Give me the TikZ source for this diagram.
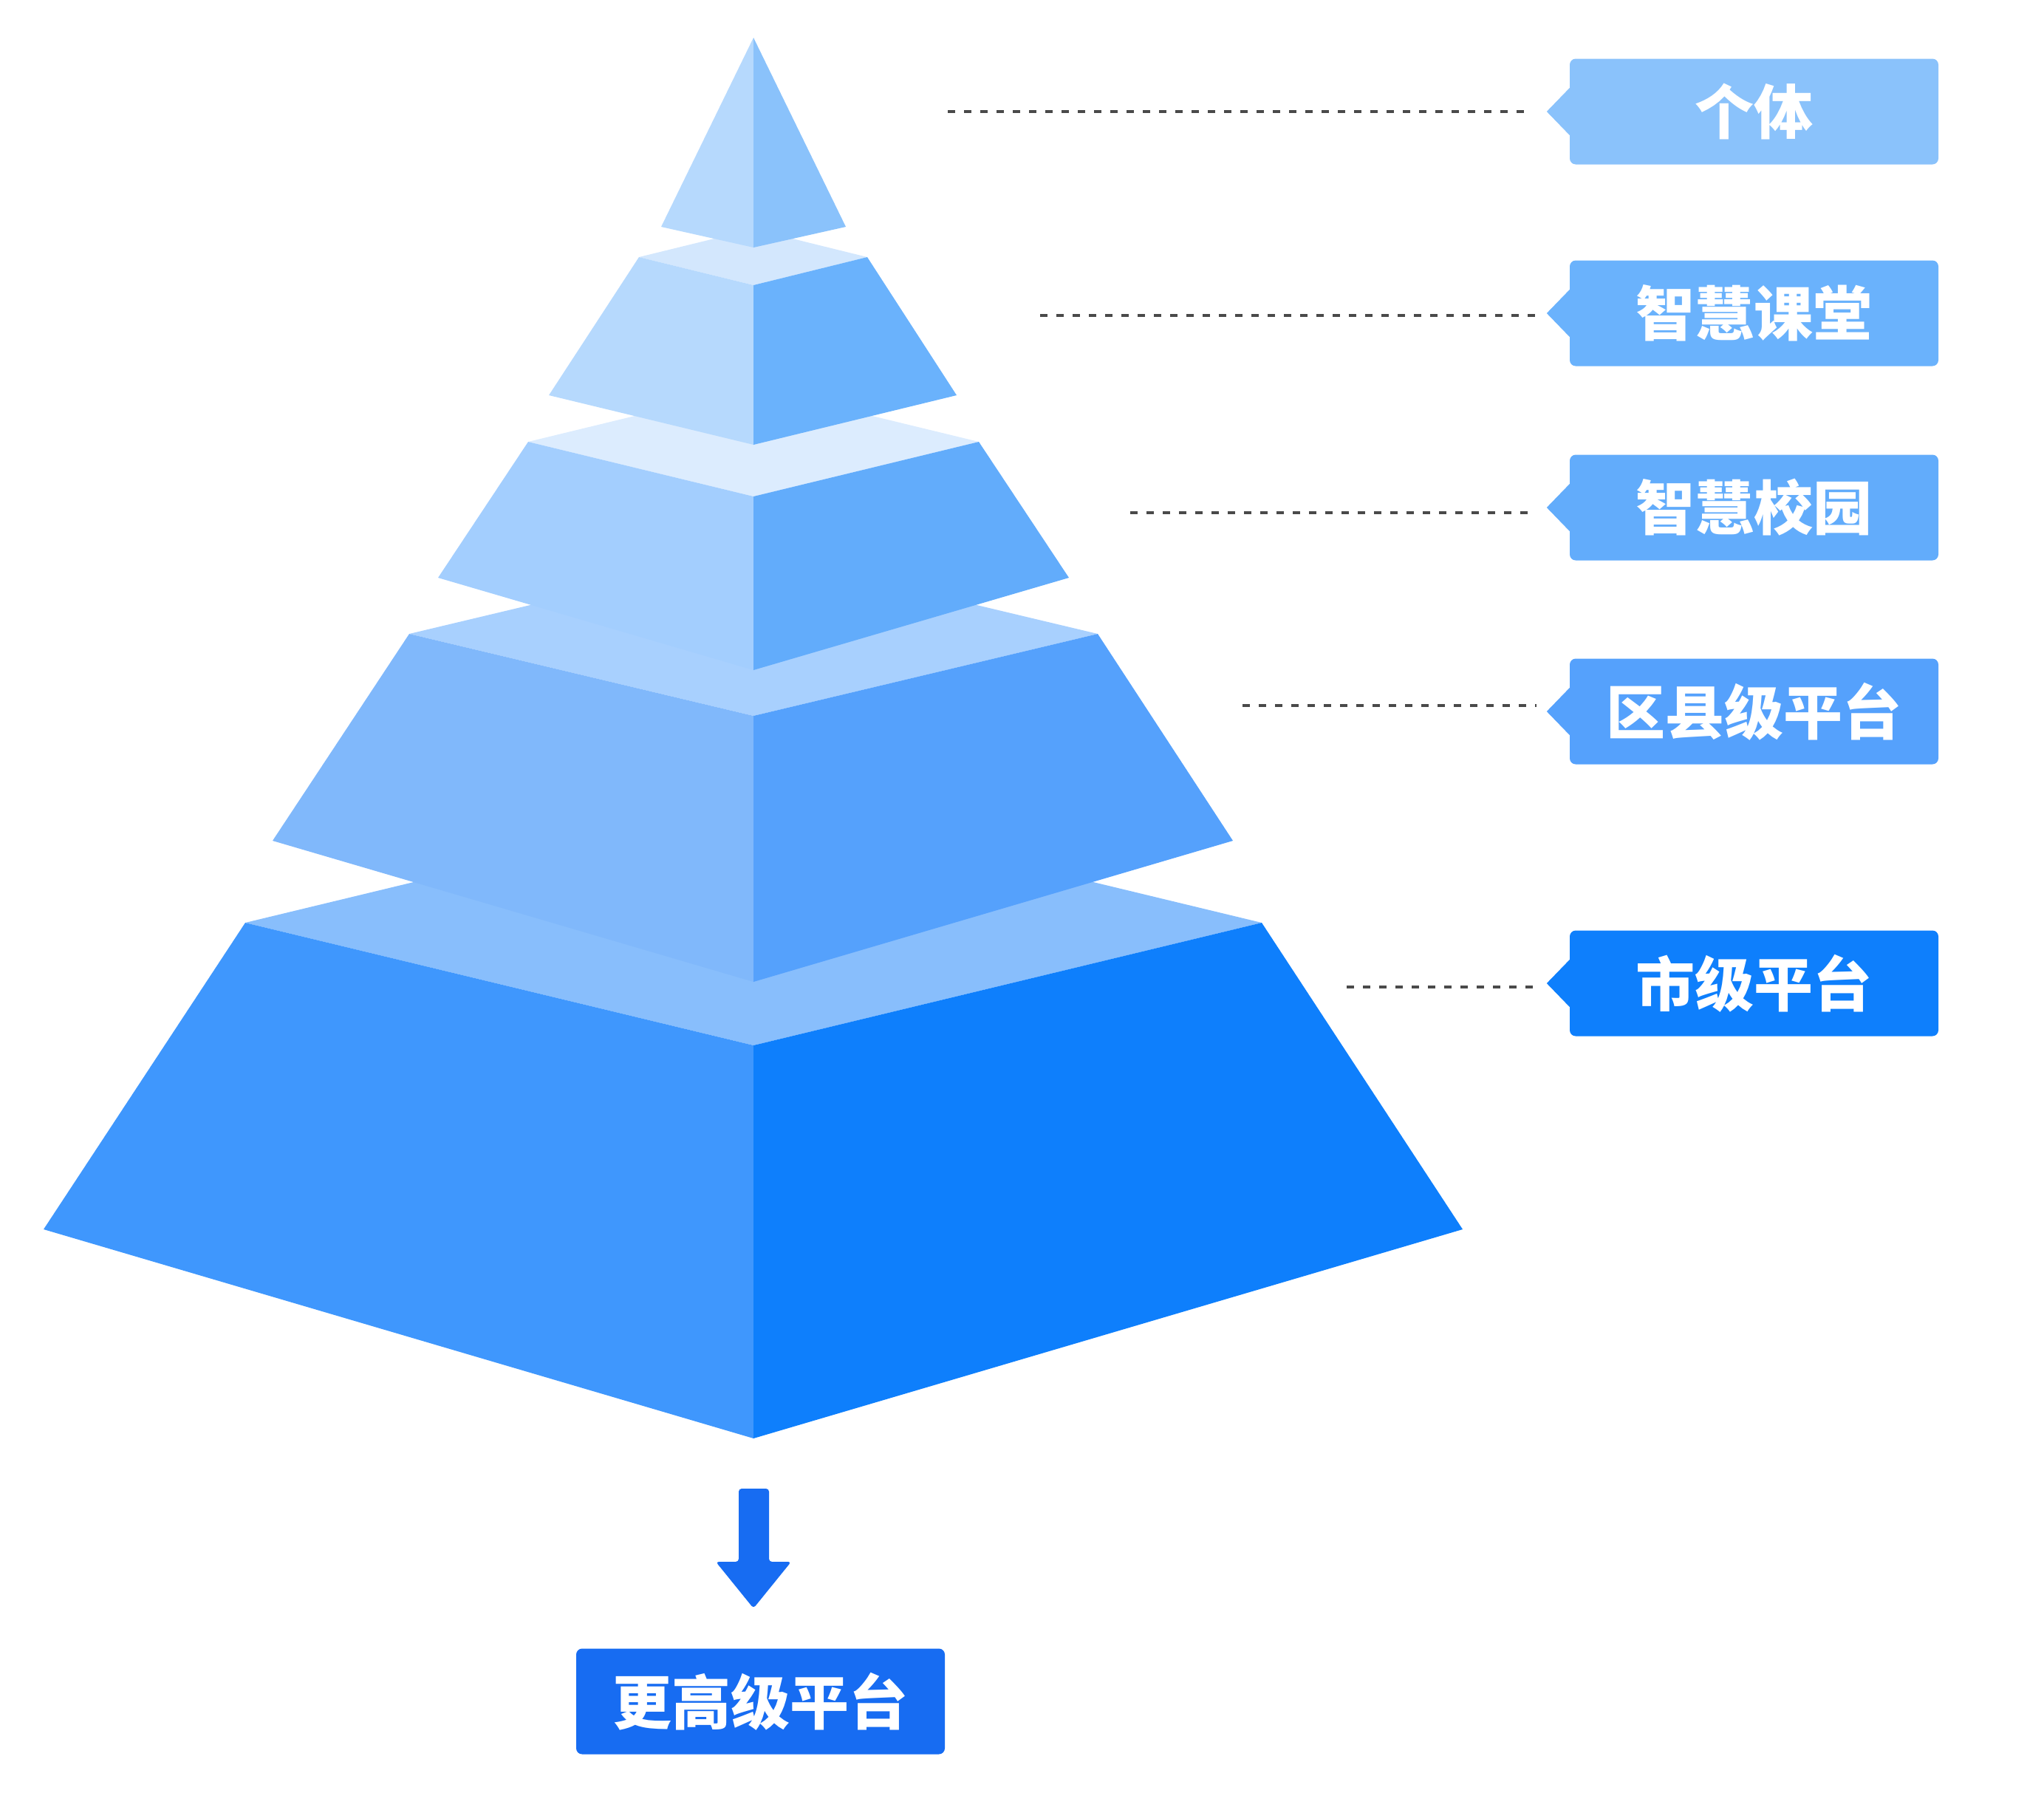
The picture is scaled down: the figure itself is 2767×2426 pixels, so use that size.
\documentclass[tikz,border=0pt]{standalone}
\usepackage{fontspec}
\newfontfamily\cjk{Noto Sans CJK SC}
\definecolor{tAl}{HTML}{B6D9FD}\definecolor{tAr}{HTML}{8AC2FB}
\definecolor{tBt}{HTML}{D3E7FD}\definecolor{tBl}{HTML}{B6D9FD}\definecolor{tBr}{HTML}{6AB2FC}
\definecolor{tCt}{HTML}{DCECFE}\definecolor{tCl}{HTML}{A3CEFE}\definecolor{tCr}{HTML}{62ACFB}
\definecolor{tDt}{HTML}{A8D0FE}\definecolor{tDl}{HTML}{80B8FB}\definecolor{tDr}{HTML}{55A1FC}
\definecolor{tEt}{HTML}{88BEFC}\definecolor{tEl}{HTML}{3F97FD}\definecolor{tEr}{HTML}{0E7FFC}
\definecolor{deep}{HTML}{176CF2}
\definecolor{dashgray}{HTML}{4A4A4A}
\begin{document}
\begin{tikzpicture}[x=1pt,y=-1pt,
  labelbox/.style={rectangle,rounded corners=8pt,minimum width=499pt,minimum height=143pt,inner sep=0pt,text=white,font=\cjk\bfseries\fontsize{80}{80}\selectfont},
  guide/.style={draw=dashgray,line width=4pt,dash pattern=on 10pt off 12pt}]
\useasboundingbox (0,0) rectangle (2767,2426);
% tier 5
\fill[tEt] (332,1249) -- (1020,1083) -- (1708,1249) -- (1020,1415) -- cycle;
\fill[tEl] (332,1249) -- (1020,1415) -- (1020,1947) -- (59,1664) -- cycle;
\fill[tEr] (1020,1415) -- (1708,1249) -- (1980,1664) -- (1020,1947) -- cycle;
% tier 4
\fill[tDt] (554,858) -- (1020,747) -- (1486,858) -- (1020,969) -- cycle;
\fill[tDl] (554,858) -- (1020,969) -- (1020,1329) -- (369,1138) -- cycle;
\fill[tDr] (1020,969) -- (1486,858) -- (1669,1138) -- (1020,1329) -- cycle;
% tier 3
\fill[tCt] (715,598) -- (1020,524) -- (1325,598) -- (1020,672) -- cycle;
\fill[tCl] (715,598) -- (1020,672) -- (1020,907) -- (593,782) -- cycle;
\fill[tCr] (1020,672) -- (1325,598) -- (1447,782) -- (1020,907) -- cycle;
% tier 2
\fill[tBt] (865,348) -- (1020,310) -- (1174,348) -- (1020,386) -- cycle;
\fill[tBl] (865,348) -- (1020,386) -- (1020,602) -- (743,535) -- cycle;
\fill[tBr] (1020,386) -- (1174,348) -- (1295,535) -- (1020,602) -- cycle;
% tier 1
\fill[tAl] (1020,51) -- (1020,335) -- (895,307) -- cycle;
\fill[tAr] (1020,51) -- (1145,307) -- (1020,335) -- cycle;

% labels
\node[labelbox,fill=tAr] (l1) at (2374.5,151) {个体};
\node[labelbox,fill=tBr] (l2) at (2374.5,424) {智慧课堂};
\node[labelbox,fill=tCr] (l3) at (2374.5,687) {智慧校园};
\node[labelbox,fill=tDr] (l4) at (2374.5,963) {区县级平台};
\node[labelbox,fill=tEr] (l5) at (2374.5,1331) {市级平台};
\foreach \n/\c in {l1/tAr,l2/tBr,l3/tCr,l4/tDr,l5/tEr}{
  \fill[\c] ([yshift=-32pt]\n.west) -- ([xshift=-31pt]\n.west) -- ([yshift=32pt]\n.west) -- cycle;
}
% guide lines
\coordinate (g1) at (1283,151);
\coordinate (g2) at (1408,427);
\coordinate (g3) at (1530,694);
\coordinate (g4) at (1682,955);
\coordinate (g5) at (1823,1336);
\draw[guide] (g1) -- ([xshift=-55pt]l1.west |- g1);
\draw[guide] (g2) -- ([xshift=-45pt]l2.west |- g2);
\draw[guide] (g3) -- ([xshift=-45pt]l3.west |- g3);
\draw[guide] (g4) -- ([xshift=-45pt]l4.west |- g4);
\draw[guide] (g5) -- ([xshift=-45pt]l5.west |- g5);

% bottom
\node[labelbox,fill=deep] (top) at (1029.5,2303) {更高级平台};
\fill[deep,rounded corners=4pt] (1000,2015) -- (1041,2015) -- (1041,2114) -- (1071,2114) -- (1020,2177) -- (969,2114) -- (1000,2114) -- cycle;
\end{tikzpicture}
\end{document}
